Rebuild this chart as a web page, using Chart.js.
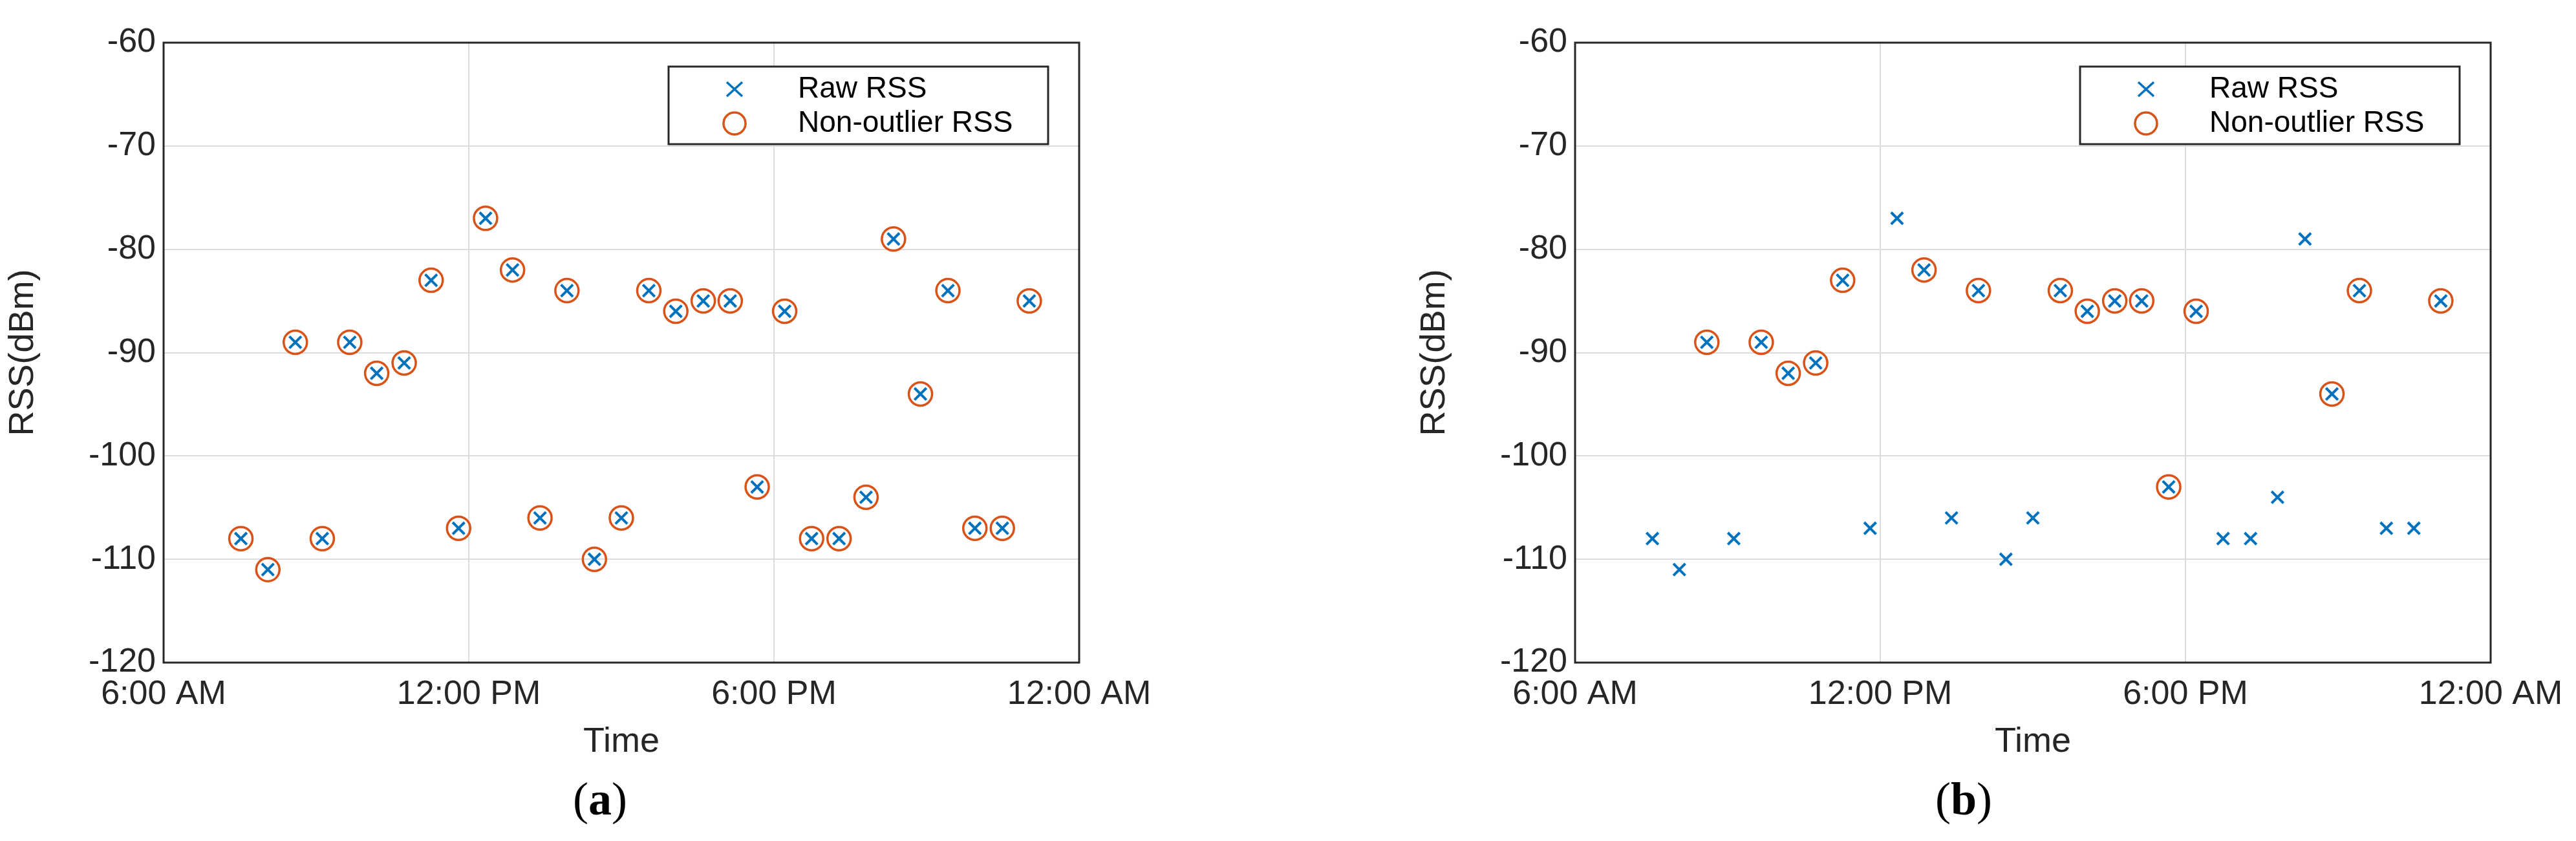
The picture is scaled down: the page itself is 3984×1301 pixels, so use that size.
<!DOCTYPE html>
<html>
<head>
<meta charset="utf-8">
<script src="https://cdn.jsdelivr.net/npm/chart.js@4.4.0/dist/chart.umd.min.js"></script>
<style>
  html, body { margin: 0; padding: 0; background: #fff; width: 3984px; height: 1301px; overflow: hidden; }
  .panel { position: absolute; top: 0; width: 1900px; height: 1185px; }
  .cap { position: absolute; top: 1195px; width: 200px; text-align: center;
         font-family: "Liberation Serif", serif; font-size: 72px; color: #000; }
</style>
</head>
<body>
<div class="panel" style="left:0"><canvas id="chartA"></canvas></div>
<div class="panel" style="left:2183px"><canvas id="chartB"></canvas></div>
<div class="cap" style="left:828px">(<b>a</b>)</div>
<div class="cap" style="left:2937px">(<b>b</b>)</div>
<script>
// time of day in hours
const HOURS = [7.52, 8.05, 8.59, 9.12, 9.66, 10.19, 10.73, 11.26, 11.80, 12.33,
               12.86, 13.40, 13.93, 14.47, 15.00, 15.54, 16.07, 16.61, 17.14, 17.67,
               18.21, 18.74, 19.28, 19.81, 20.35, 20.88, 21.42, 21.95, 22.49, 23.02];
const RAW_RSS = [-108, -111, -89, -108, -89, -92, -91, -83, -107, -77,
                 -82, -106, -84, -110, -106, -84, -86, -85, -85, -103,
                 -86, -108, -108, -104, -79, -94, -84, -107, -107, -85];
// (a): every sample kept; (b): outliers removed (null)
const KEPT_A = RAW_RSS.slice();
const KEPT_B = [null, null, -89, null, -89, -92, -91, -83, null, null,
                -82, null, -84, null, null, -84, -86, -85, -85, -103,
                -86, null, null, null, null, -94, -84, null, null, -85];
const X_TICKS = [6, 12, 18, 24];
const X_LABELS = ['6:00 AM', '12:00 PM', '6:00 PM', '12:00 AM'];
const Y_MIN = -120, Y_MAX = -60;

const BLUE = '#0072BD', ORANGE = '#D95319';
const FONT = 'Liberation Sans, Arial, sans-serif';

const boxPlugin = {
  id: 'box',
  afterDraw(chart) {
    const { ctx, chartArea: a } = chart;
    ctx.save();
    ctx.strokeStyle = '#262626';
    ctx.lineWidth = 3;
    ctx.strokeRect(a.left, a.top, a.right - a.left, a.bottom - a.top);
    // legend
    const lx = a.left + 781, ly = a.top + 37, lw = 587, lh = 120;
    ctx.fillStyle = '#fff';
    ctx.fillRect(lx, ly, lw, lh);
    ctx.strokeRect(lx, ly, lw, lh);
    ctx.font = '46px ' + FONT;
    ctx.fillStyle = '#000';
    ctx.textBaseline = 'middle';
    ctx.fillText('Raw RSS', lx + 200, ly + 35);
    ctx.fillText('Non-outlier RSS', lx + 200, ly + 88);
    const mx = lx + 102;
    ctx.strokeStyle = BLUE; ctx.lineWidth = 3.5;
    ctx.beginPath();
    ctx.moveTo(mx - 12, ly + 24); ctx.lineTo(mx + 12, ly + 46);
    ctx.moveTo(mx + 12, ly + 24); ctx.lineTo(mx - 12, ly + 46);
    ctx.stroke();
    ctx.strokeStyle = ORANGE;
    ctx.beginPath(); ctx.arc(mx, ly + 88, 17, 0, Math.PI * 2); ctx.stroke();
    ctx.restore();
  }
};

function makeChart(id, kept) {
  return new Chart(document.getElementById(id), {
    type: 'scatter',
    data: {
      datasets: [
        {
          label: 'Non-outlier RSS',
          data: HOURS.map((h, i) => ({ x: h, y: kept[i] })),
          pointStyle: 'circle',
          pointRadius: 18,
          backgroundColor: 'rgba(0,0,0,0)',
          borderColor: ORANGE,
          borderWidth: 3.5
        },
        {
          label: 'Raw RSS',
          data: HOURS.map((h, i) => ({ x: h, y: RAW_RSS[i] })),
          pointStyle: 'crossRot',
          pointRadius: 13,
          borderColor: BLUE,
          borderWidth: 4
        }
      ]
    },
    options: {
      responsive: true,
      maintainAspectRatio: false,
      animation: false,
      events: [],
      layout: { padding: { top: 66, right: 231 } },
      scales: {
        x: {
          type: 'linear', min: 6, max: 24,
          afterBuildTicks: ax => { ax.ticks = X_TICKS.map(v => ({ value: v })); },
          afterFit: ax => { ax.height = 160; },
          grid: { color: '#dcdcdc', lineWidth: 2, drawTicks: false },
          border: { display: false },
          ticks: {
            color: '#262626', font: { family: FONT, size: 52 }, padding: 18,
            maxRotation: 0,
            callback: v => X_LABELS[X_TICKS.indexOf(v)]
          },
          title: { display: true, text: 'Time', color: '#262626',
                   font: { family: FONT, size: 54 }, padding: { top: 4 } }
        },
        y: {
          min: Y_MIN, max: Y_MAX,
          afterFit: ax => { ax.width = 253; },
          grid: { color: '#dcdcdc', lineWidth: 2, drawTicks: false },
          border: { display: false },
          ticks: { stepSize: 10, color: '#262626', font: { family: FONT, size: 52 }, padding: 12 },
          title: { display: true, text: 'RSS(dBm)', color: '#262626',
                   font: { family: FONT, size: 54 }, padding: { bottom: 4 } }
        }
      },
      plugins: { legend: { display: false }, tooltip: { enabled: false } }
    },
    plugins: [boxPlugin]
  });
}

makeChart('chartA', KEPT_A);
makeChart('chartB', KEPT_B);
</script>
</body>
</html>
